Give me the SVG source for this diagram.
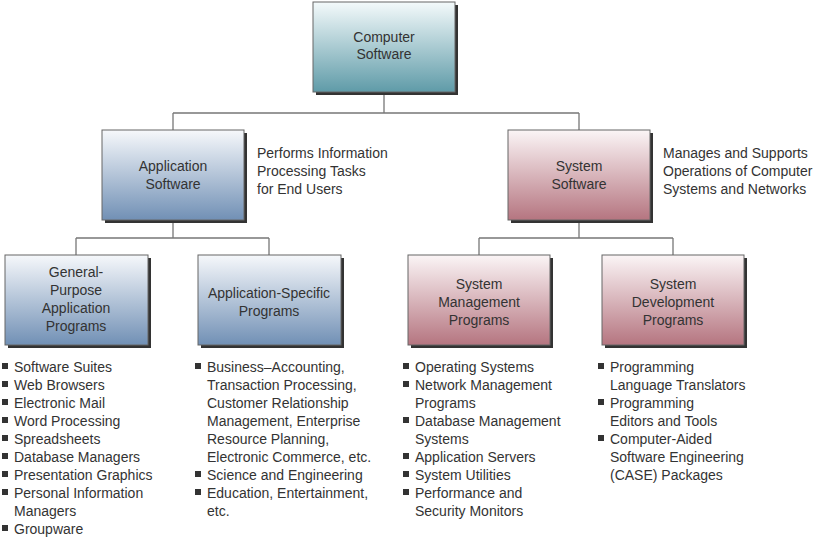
<svg xmlns="http://www.w3.org/2000/svg" width="825" height="538" viewBox="0 0 825 538">
<defs>
<linearGradient id="gt" x1="0" y1="0" x2="0" y2="1"><stop offset="0" stop-color="#f4fafb"/><stop offset="1" stop-color="#5f9ba8"/></linearGradient>
<linearGradient id="gb" x1="0" y1="0" x2="0" y2="1"><stop offset="0" stop-color="#f6f8fb"/><stop offset="1" stop-color="#7190b5"/></linearGradient>
<linearGradient id="gr" x1="0" y1="0" x2="0" y2="1"><stop offset="0" stop-color="#fbf5f6"/><stop offset="1" stop-color="#b57580"/></linearGradient>
<style>
text{font-family:"Liberation Sans",Arial,sans-serif;font-size:14px;fill:#333}
.c{text-anchor:middle}
.sh{fill:#333}
.b{stroke:#666;stroke-width:1}
.ln{stroke:#777;stroke-width:1.3;fill:none}
.sq{fill:#333}
</style>
</defs>
<rect width="825" height="538" fill="#fff"/>
<g id="connectors" class="ln">
<path d="M384 93V113M173 113H579M173 113V130M579 113V130"/>
<path d="M173 220V238M76 238H269M76 238V255M269 238V255"/>
<path d="M579 220V238M479 238H673M479 238V255M673 238V255"/>
</g>
<g id="n-computer"><rect class="sh" x="316" y="5" width="142" height="90"/><rect class="b" x="313" y="2" width="142" height="90" fill="url(#gt)"/><text class="c" x="384" y="42">Computer</text><text class="c" x="384" y="59">Software</text></g>
<g id="n-app"><rect class="sh" x="105" y="133" width="142" height="90"/><rect class="b" x="102" y="130" width="142" height="90" fill="url(#gb)"/><text class="c" x="173" y="171">Application</text><text class="c" x="173" y="189">Software</text></g>
<text x="257" y="158">Performs Information</text><text x="257" y="176">Processing Tasks</text><text x="257" y="194">for End Users</text>
<g id="n-sys"><rect class="sh" x="511" y="133" width="142" height="90"/><rect class="b" x="508" y="130" width="142" height="90" fill="url(#gr)"/><text class="c" x="579" y="171">System</text><text class="c" x="579" y="189">Software</text></g>
<text x="663" y="158">Manages and Supports</text><text x="663" y="176">Operations of Computer</text><text x="663" y="194">Systems and Networks</text>
<g id="n-gp"><rect class="sh" x="8" y="258" width="143" height="90"/><rect class="b" x="5" y="255" width="143" height="90" fill="url(#gb)"/><text class="c" x="76" y="277">General-</text><text class="c" x="76" y="295">Purpose</text><text class="c" x="76" y="313">Application</text><text class="c" x="76" y="331">Programs</text></g>
<g id="n-as"><rect class="sh" x="201" y="258" width="143" height="90"/><rect class="b" x="198" y="255" width="143" height="90" fill="url(#gb)"/><text class="c" x="269" y="298">Application-Specific</text><text class="c" x="269" y="316">Programs</text></g>
<g id="n-sm"><rect class="sh" x="411" y="258" width="142" height="90"/><rect class="b" x="408" y="255" width="142" height="90" fill="url(#gr)"/><text class="c" x="479" y="289">System</text><text class="c" x="479" y="307">Management</text><text class="c" x="479" y="325">Programs</text></g>
<g id="n-sd"><rect class="sh" x="605" y="258" width="142" height="90"/><rect class="b" x="602" y="255" width="142" height="90" fill="url(#gr)"/><text class="c" x="673" y="289">System</text><text class="c" x="673" y="307">Development</text><text class="c" x="673" y="325">Programs</text></g>
<g id="list1">
<rect class="sq" x="2" y="363" width="6" height="6"/><text x="14" y="372">Software Suites</text>
<rect class="sq" x="2" y="381" width="6" height="6"/><text x="14" y="390">Web Browsers</text>
<rect class="sq" x="2" y="399" width="6" height="6"/><text x="14" y="408">Electronic Mail</text>
<rect class="sq" x="2" y="417" width="6" height="6"/><text x="14" y="426">Word Processing</text>
<rect class="sq" x="2" y="435" width="6" height="6"/><text x="14" y="444">Spreadsheets</text>
<rect class="sq" x="2" y="453" width="6" height="6"/><text x="14" y="462">Database Managers</text>
<rect class="sq" x="2" y="471" width="6" height="6"/><text x="14" y="480">Presentation Graphics</text>
<rect class="sq" x="2" y="489" width="6" height="6"/><text x="14" y="498">Personal Information</text><text x="14" y="516">Managers</text>
<rect class="sq" x="2" y="525" width="6" height="6"/><text x="14" y="534">Groupware</text>
</g>
<g id="list2">
<rect class="sq" x="195" y="363" width="6" height="6"/><text x="207" y="372">Business–Accounting,</text><text x="207" y="390">Transaction Processing,</text><text x="207" y="408">Customer Relationship</text><text x="207" y="426">Management, Enterprise</text><text x="207" y="444">Resource Planning,</text><text x="207" y="462">Electronic Commerce, etc.</text>
<rect class="sq" x="195" y="471" width="6" height="6"/><text x="207" y="480">Science and Engineering</text>
<rect class="sq" x="195" y="489" width="6" height="6"/><text x="207" y="498">Education, Entertainment,</text><text x="207" y="516">etc.</text>
</g>
<g id="list3">
<rect class="sq" x="403" y="363" width="6" height="6"/><text x="415" y="372">Operating Systems</text>
<rect class="sq" x="403" y="381" width="6" height="6"/><text x="415" y="390">Network Management</text><text x="415" y="408">Programs</text>
<rect class="sq" x="403" y="417" width="6" height="6"/><text x="415" y="426">Database Management</text><text x="415" y="444">Systems</text>
<rect class="sq" x="403" y="453" width="6" height="6"/><text x="415" y="462">Application Servers</text>
<rect class="sq" x="403" y="471" width="6" height="6"/><text x="415" y="480">System Utilities</text>
<rect class="sq" x="403" y="489" width="6" height="6"/><text x="415" y="498">Performance and</text><text x="415" y="516">Security Monitors</text>
</g>
<g id="list4">
<rect class="sq" x="598" y="363" width="6" height="6"/><text x="610" y="372">Programming</text><text x="610" y="390">Language Translators</text>
<rect class="sq" x="598" y="399" width="6" height="6"/><text x="610" y="408">Programming</text><text x="610" y="426">Editors and Tools</text>
<rect class="sq" x="598" y="435" width="6" height="6"/><text x="610" y="444">Computer-Aided</text><text x="610" y="462">Software Engineering</text><text x="610" y="480">(CASE) Packages</text>
</g>
</svg>
